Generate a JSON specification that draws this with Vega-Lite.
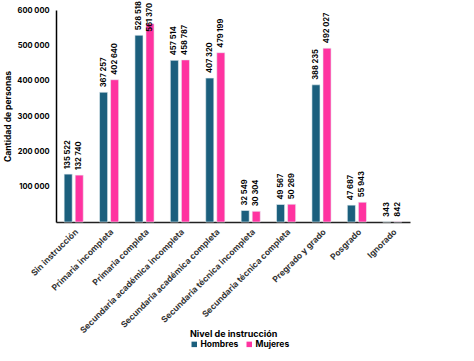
{
  "$schema": "https://vega.github.io/schema/vega-lite/v6.json",
  "autosize": {"type": "none"},
  "width": 354,
  "height": 212,
  "padding": {"left": 56, "top": 10, "right": 64, "bottom": 139},
  "background": "white",
  "config": {
    "locale": {"number": {"decimal": ",", "thousands": " ", "grouping": [3], "currency": ["", ""]}},
    "view": {"stroke": null},
    "font": "Inter"
  },
  "data": {
    "values": [
      {"nivel": "Sin instrucción", "sexo": "Hombres", "valor": 135522},
      {"nivel": "Sin instrucción", "sexo": "Mujeres", "valor": 132740},
      {"nivel": "Primaria incompleta", "sexo": "Hombres", "valor": 367257},
      {"nivel": "Primaria incompleta", "sexo": "Mujeres", "valor": 402640},
      {"nivel": "Primaria completa", "sexo": "Hombres", "valor": 528518},
      {"nivel": "Primaria completa", "sexo": "Mujeres", "valor": 561370},
      {"nivel": "Secundaria académica incompleta", "sexo": "Hombres", "valor": 457514},
      {"nivel": "Secundaria académica incompleta", "sexo": "Mujeres", "valor": 458787},
      {"nivel": "Secundaria académica completa", "sexo": "Hombres", "valor": 407320},
      {"nivel": "Secundaria académica completa", "sexo": "Mujeres", "valor": 479199},
      {"nivel": "Secundaria técnica incompleta", "sexo": "Hombres", "valor": 32549},
      {"nivel": "Secundaria técnica incompleta", "sexo": "Mujeres", "valor": 30304},
      {"nivel": "Secundaria técnica completa", "sexo": "Hombres", "valor": 49567},
      {"nivel": "Secundaria técnica completa", "sexo": "Mujeres", "valor": 50269},
      {"nivel": "Pregrado y grado", "sexo": "Hombres", "valor": 388235},
      {"nivel": "Pregrado y grado", "sexo": "Mujeres", "valor": 492027},
      {"nivel": "Posgrado", "sexo": "Hombres", "valor": 47687},
      {"nivel": "Posgrado", "sexo": "Mujeres", "valor": 55943},
      {"nivel": "Ignorado", "sexo": "Hombres", "valor": 343},
      {"nivel": "Ignorado", "sexo": "Mujeres", "valor": 842}
    ]
  },
  "encoding": {
    "x": {
      "field": "nivel", "type": "nominal", "sort": null,
      "scale": {"paddingInner": 0.46, "paddingOuter": 0.23},
      "axis": {
        "title": null, "labelAngle": -45, "labelFontSize": 8.5, "labelFontWeight": "bold",
        "labelColor": "#333333", "ticks": false, "domainColor": "#222222", "domainWidth": 1.5,
        "labelPadding": 5, "labelLimit": 200
      }
    },
    "xOffset": {"field": "sexo", "type": "nominal", "scale": {"paddingInner": 0.27}},
    "y": {
      "field": "valor", "type": "quantitative",
      "scale": {"domain": [0, 600000]},
      "axis": {
        "title": "Cantidad de personas", "titleFontSize": 8.5, "titleFontWeight": "bold",
        "titleColor": "#000000", "titlePadding": 4,
        "values": [100000, 200000, 300000, 400000, 500000, 600000],
        "format": ",d", "labelFontSize": 7.5, "labelFontWeight": "bold", "labelColor": "#000000",
        "ticks": false, "grid": false, "domainColor": "#000000", "domainWidth": 1.5,
        "labelPadding": 7
      }
    }
  },
  "layer": [
    {
      "mark": {"type": "bar", "stroke": "#e8f0f4", "strokeWidth": 0.6},
      "encoding": {
        "color": {
          "field": "sexo", "type": "nominal",
          "scale": {"domain": ["Hombres", "Mujeres"], "range": ["#1b5f7d", "#ff33a0"]},
          "legend": {
            "orient": "none", "legendX": 134, "legendY": 320, "direction": "horizontal",
            "title": "Nivel de instrucción", "titleFontSize": 9, "titleFontWeight": "bold",
            "titleColor": "#000000", "titlePadding": 1,
            "labelFontSize": 8.5, "labelFontWeight": "bold", "labelColor": "#000000",
            "symbolType": "square", "symbolSize": 30, "symbolStrokeWidth": 0,
            "labelOffset": 2, "columnPadding": 6
          }
        }
      }
    },
    {
      "transform": [{"filter": "datum.valor <= 540000"}],
      "mark": {"type": "text", "angle": 270, "align": "left", "baseline": "middle", "dx": 5,
               "fontSize": 7.5, "fontWeight": "bold", "color": "#000000"},
      "encoding": {"text": {"field": "valor", "type": "quantitative", "format": ",d"}}
    },
    {
      "transform": [{"filter": "datum.valor > 540000"}],
      "mark": {"type": "text", "angle": 270, "align": "left", "baseline": "middle", "dx": -8,
               "fontSize": 7.5, "fontWeight": "bold", "color": "#000000"},
      "encoding": {"text": {"field": "valor", "type": "quantitative", "format": ",d"}}
    }
  ]
}
